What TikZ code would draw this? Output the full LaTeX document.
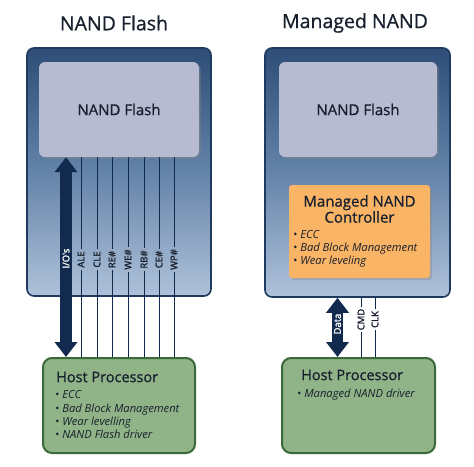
\documentclass[tikz,border=0pt]{standalone}
\usepackage{fontspec}
\setmainfont{Open Sans}
\newfontfamily\medfont{Open Sans}[AutoFakeBold=0.8]
\newfontfamily\sigfont{Open Sans}[AutoFakeBold=1.8]
\usetikzlibrary{arrows.meta,shadows}
\definecolor{navy}{HTML}{122A4D}
\definecolor{outerborder}{HTML}{1E3A5F}
\definecolor{outertop}{HTML}{2E4D77}
\definecolor{outermid}{HTML}{6483A9}
\definecolor{outerbot}{HTML}{AFC2DA}
\definecolor{flashfill}{HTML}{B7BBD2}
\definecolor{ctrlfill}{HTML}{F9B465}
\definecolor{hostfill}{HTML}{90B487}
\definecolor{hostborder}{HTML}{3B6A3A}
\definecolor{txt}{HTML}{18202E}
\begin{document}
\begin{tikzpicture}[x=1pt,y=-1pt,
  outerbox/.style={draw=outerborder, line width=1.6pt, rounded corners=7pt,
    top color=outertop, bottom color=outerbot, middle color=outermid, inner sep=0pt},
  flashbox/.style={fill=flashfill, rounded corners=6pt, inner sep=0pt, text=txt,
    font=\medfont\bfseries\fontsize{15}{18}\selectfont,
    drop shadow={shadow xshift=2pt, shadow yshift=-2pt, opacity=0.35}},
  ctrlbox/.style={fill=ctrlfill, rounded corners=3pt, inner sep=0pt,
    drop shadow={shadow xshift=2pt, shadow yshift=-2pt, opacity=0.35}},
  hostbox/.style={fill=hostfill, draw=hostborder, line width=2pt, rounded corners=9pt, inner sep=0pt},
  title/.style={text=txt, font=\medfont\bfseries\fontsize{19.5}{22}\selectfont, inner sep=0pt},
  boxtitle/.style={text=txt, font=\medfont\bfseries\fontsize{14.5}{17}\selectfont, inner sep=0pt, anchor=west},
  bullets/.style={text=txt, font=\medfont\bfseries\fontsize{11.2}{13.3}\selectfont\itshape, inner sep=0pt,
    anchor=north west, align=left},
  sig/.style={rotate=90, text=txt, font=\sigfont\bfseries\fontsize{9.5}{10}\selectfont, inner xsep=2pt, inner ysep=0pt},
  sigline/.style={draw=navy, line width=0.8pt},
  bigarrow/.style={draw=navy, line width=11.5pt, {Triangle[width=22pt,length=15pt]}-{Triangle[width=22pt,length=15pt]}},
  arrlabel/.style={rotate=90, text=white, font=\sigfont\bfseries\fontsize{9.5}{10}\selectfont, inner sep=0pt}
]
\useasboundingbox (0,0) rectangle (474,466);

% titles
\node[title] (t1) at (114,23) {NAND Flash};
\node[title] (t2) at (355,23) {Managed NAND};

% left panel
\node[outerbox, minimum width=184pt, minimum height=248pt] (lout) at (119,172) {};
\node[flashbox, minimum width=160pt, minimum height=95pt] (lfl) at (119,109.5) {NAND Flash};
\node[hostbox, minimum width=152pt, minimum height=95pt] (lhost) at (119,405.5) {};
\node[boxtitle] (lht) at (56,377) {Host Processor};
\node[bullets] (lhb) at (55,390.5) {• ECC\\• Bad Block Management\\• Wear levelling\\• NAND Flash driver};

% I/O arrow
\coordinate (iox) at (66,0);
\draw[bigarrow] (iox |- lfl.south) -- (iox |- lhost.north);
\node[arrlabel] (io) at (66,258.5) {I/O's};

% signal lines
\foreach \nm/\lab/\xx in {ale/ALE/81, cle/CLE/97, re/RE\#/112, we/WE\#/128, rb/RB\#/144, ce/CE\#/159, wp/WP\#/174}{
  \node[sig] (\nm) at (\xx,259.5) {\lab};
  \draw[sigline] (\nm.east |- lfl.south) -- (\nm.east);
  \draw[sigline] (\nm.west) -- (\nm.west |- lhost.north);
}

% right panel
\node[outerbox, minimum width=185pt, minimum height=249pt] (rout) at (357.5,172.5) {};
\node[flashbox, minimum width=158pt, minimum height=95pt] (rfl) at (358,109.5) {NAND Flash};
\node[ctrlbox, minimum width=141pt, minimum height=93pt] (ctrl) at (359.5,231.5) {};
\node[text=txt, font=\medfont\bfseries\fontsize{15}{16}\selectfont, align=center, inner sep=0pt] (ctrlt) at (359.5,209) {Managed NAND\\Controller};
\node[bullets] (ctrlb) at (293,230) {• ECC\\• Bad Block Management\\• Wear leveling};

\node[hostbox, minimum width=153pt, minimum height=95pt] (rhost) at (358.5,405.5) {};
\node[boxtitle] (rht) at (301,375) {Host Processor};
\node[bullets] (rhb) at (297,389) {• Managed NAND driver};

% data arrow
\coordinate (dx) at (337.5,0);
\draw[bigarrow] (dx |- rout.south) -- (dx |- rhost.north);
\node[arrlabel] (data) at (337.5,324) {Data};

\foreach \nm/\lab/\xx in {cmd/CMD/361, clk/CLK/375}{
  \node[sig] (\nm) at (\xx,319.5) {\lab};
  \draw[sigline] (\nm.east |- rout.south) -- (\nm.east);
  \draw[sigline] (\nm.west) -- (\nm.west |- rhost.north);
}
\end{tikzpicture}
\end{document}
